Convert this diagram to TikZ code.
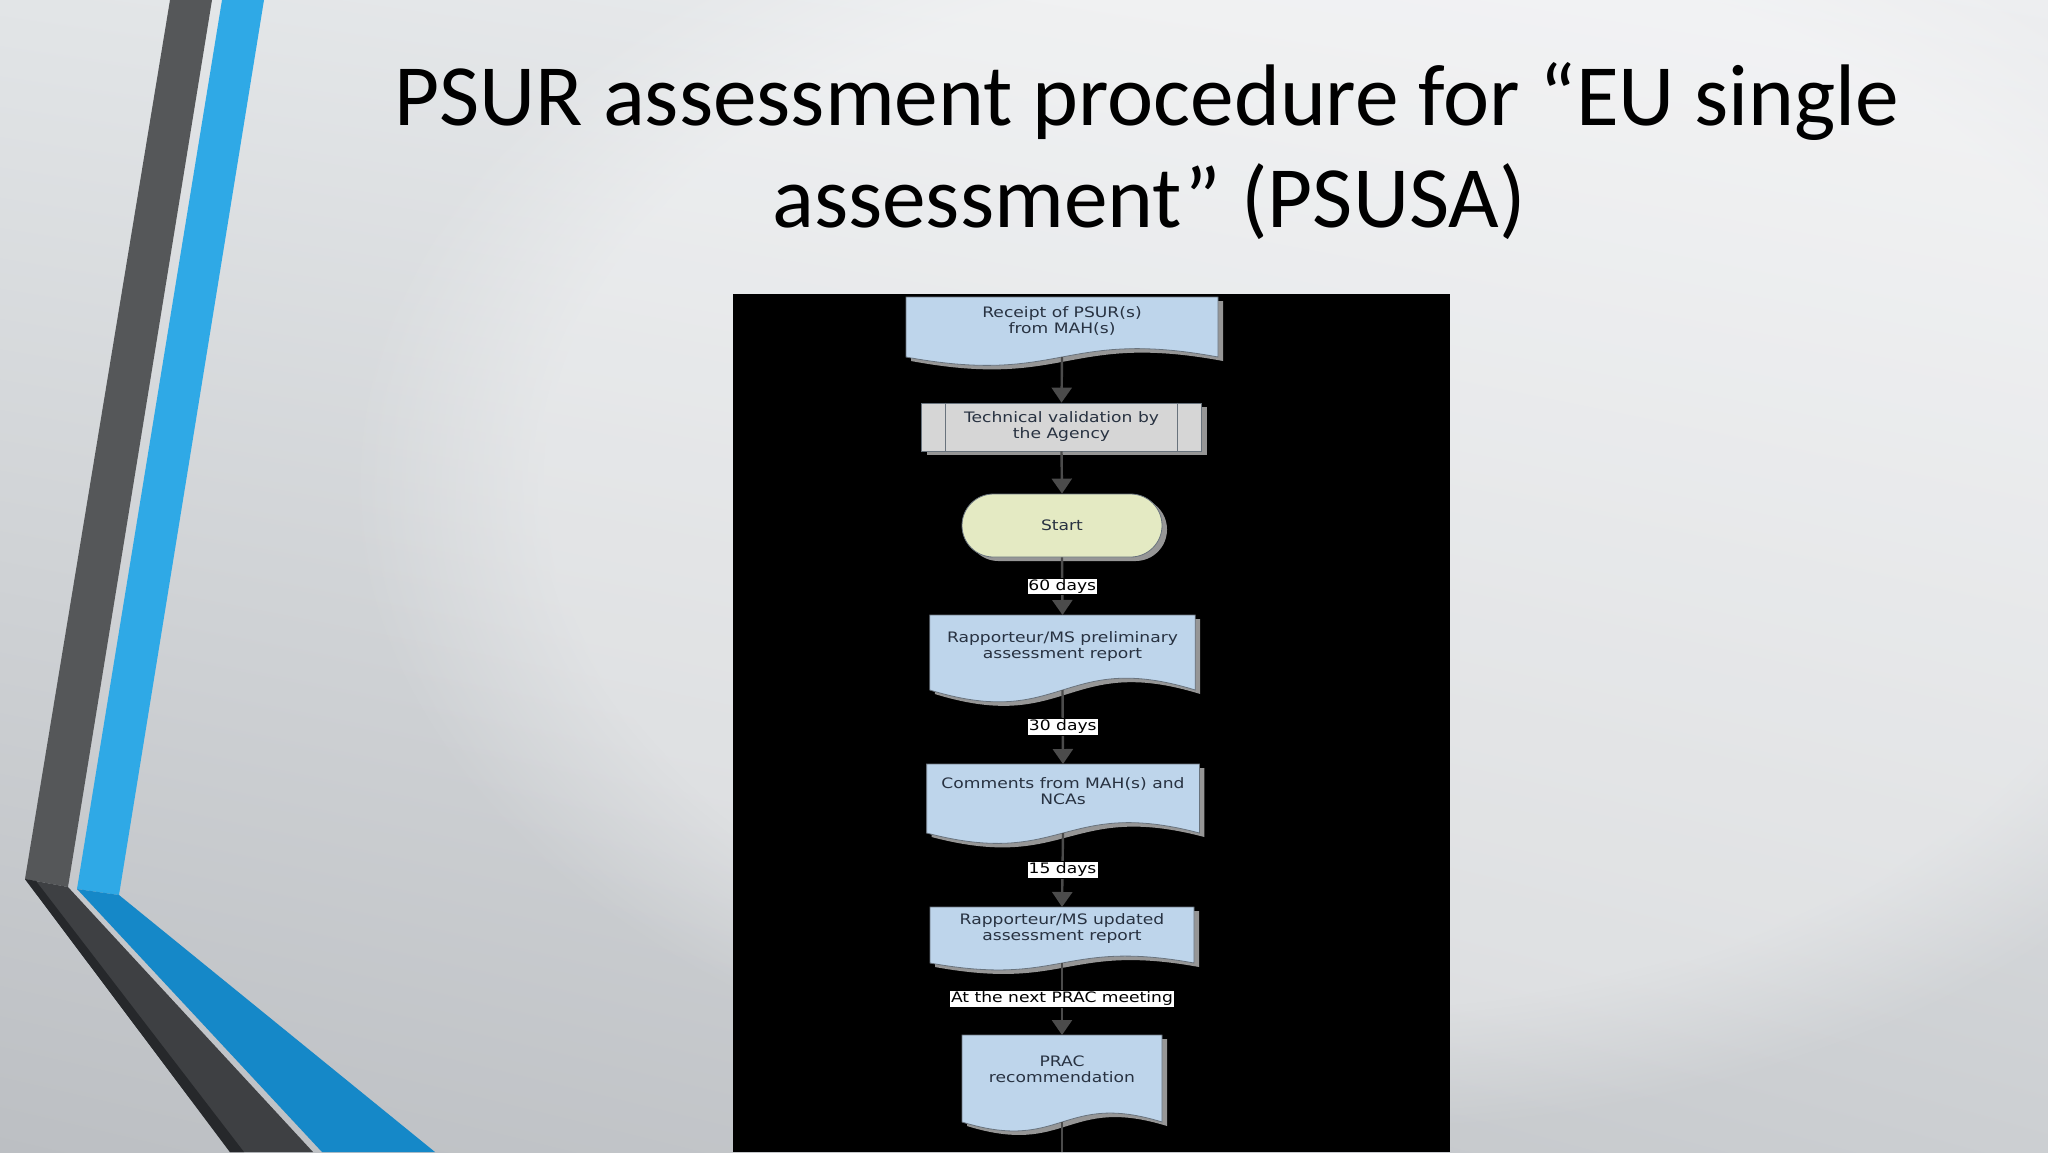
\documentclass[tikz,border=0pt]{standalone}
\usepackage{fontspec}
\setmainfont{Carlito}
\newfontfamily\diagfont[FakeStretch=1.19]{DejaVu Sans}
\usetikzlibrary{arrows.meta,fadings,shadows,shadings}
\definecolor{docblue}{RGB}{190,213,235}
\definecolor{techc}{RGB}{214,214,214}
\definecolor{startc}{RGB}{228,234,195}
\definecolor{shadowc}{RGB}{150,150,150}
\definecolor{edgec}{RGB}{105,115,125}
\definecolor{txtc}{RGB}{40,50,65}
\definecolor{linec}{RGB}{75,75,75}
\definecolor{bgUL}{RGB}{226,229,231}
\definecolor{bgUR}{RGB}{237,238,240}
\definecolor{bgLL}{RGB}{188,191,195}
\definecolor{bgLR}{RGB}{204,207,210}
\definecolor{greyUp}{RGB}{85,87,89}
\definecolor{greyLow}{RGB}{62,64,67}
\definecolor{greyEdge}{RGB}{38,40,43}
\definecolor{blueUp}{RGB}{47,169,230}
\definecolor{blueLow}{RGB}{21,136,200}
\newcommand\docshape[3]{%
  \fill[shadowc] ([shift={(5,4)}]#1.north west) -- ([shift={(5,4)}]#1.north east) -- ([shift={(5,4)}]#1.south east)
    .. controls ([shift={(5,4-#2)}]#1.south) and ([shift={(5,4+#2)}]#1.south) .. ([shift={(5,4)}]#1.south west) -- cycle;
  \filldraw[fill=#3, draw=edgec, line width=0.4pt] (#1.north west) -- (#1.north east) -- (#1.south east)
    .. controls ([shift={(0,-#2)}]#1.south) and ([shift={(0,#2)}]#1.south) .. (#1.south west) -- cycle;}
\begin{document}
\begin{tikzpicture}[x=0.5pt,y=-0.5pt,
  shp/.style={inner sep=0pt, outer sep=0pt},
  txt/.style={align=center, font=\diagfont\fontsize{7.2}{8}\selectfont, text=txtc, inner sep=0pt},
  lbl/.style={fill=white, draw=black, line width=0.3pt, inner xsep=0.8pt, inner ysep=0.7pt,
    font=\diagfont\fontsize{7.2}{8}\selectfont, text=black},
  arr/.style={draw=linec, line width=1.2pt, -{Triangle[length=7.5pt,width=10pt]}},
  conn/.style={draw=linec, line width=1.2pt},
  title/.style={anchor=base, font=\fontsize{43.7}{52}\selectfont, text=black, inner sep=0pt},
  techbox/.style={draw=edgec, line width=0.4pt, fill=techc, minimum width=140pt, minimum height=24pt,
    drop shadow={shadow xshift=2.5pt, shadow yshift=-2pt, fill=shadowc, opacity=1}},
  startbox/.style={draw=edgec, line width=0.4pt, fill=startc, minimum width=100pt, minimum height=31.5pt,
    rounded corners=15.7pt, drop shadow={shadow xshift=2.5pt, shadow yshift=-2pt, fill=shadowc, opacity=1}}]
% background
\useasboundingbox (0,0) rectangle (2048,1152);
\shade[upper left=bgUL, upper right=bgUR, lower left=bgLL, lower right=bgLR] (0,0) rectangle (2048,1152);
\fill[white, opacity=0.35, path fading=circle with fuzzy edge 20 percent] (1350,480) ellipse [x radius=1000, y radius=650];
% left decoration
\fill[greyUp] (170,0) -- (212,0) -- (68,887) -- (25,879) -- cycle;
\fill[blueUp] (222,0) -- (264,0) -- (119,895) -- (77,889) -- cycle;
\fill[greyLow] (25,879) -- (68,887) -- (313,1152) -- (230,1152) -- cycle;
\fill[greyEdge] (25,879) -- (36,881) -- (244,1152) -- (230,1152) -- cycle;
\fill[blueLow] (77,889) -- (119,895) -- (435,1152) -- (322,1152) -- cycle;
% title
\node[title] (title1) at (1147,125) {PSUR assessment procedure for “EU single};
\node[title] (title2) at (1149,227) {assessment” (PSUSA)};
% diagram panel
\fill[black] (733,294) rectangle (1450,1152);
% receipt
\node[shp, minimum width=156pt, minimum height=30pt] (receipt) at (1062,327) {};
\docshape{receipt}{29}{docblue}
\node[txt] (receiptt) at (1062,321) {Receipt of PSUR(s)\\from MAH(s)};
% technical validation
\node[techbox, txt] (tech) at (1061.5,427) {Technical validation by\\the Agency};
\draw[edgec, line width=0.4pt] ([xshift=12pt]tech.north west) -- ([xshift=12pt]tech.south west);
\draw[edgec, line width=0.4pt] ([xshift=-12.5pt]tech.north east) -- ([xshift=-12.5pt]tech.south east);
% start
\node[startbox, txt] (start) at (1062,525.5) {Start};
% preliminary
\node[shp, minimum width=132.7pt, minimum height=37.5pt] (prelim) at (1062.5,652.5) {};
\docshape{prelim}{41}{docblue}
\node[txt] (prelimt) at (1062.5,646.5) {Rapporteur/MS preliminary\\assessment report};
% comments
\node[shp, minimum width=136.4pt, minimum height=34.5pt] (comments) at (1063,798.5) {};
\docshape{comments}{36}{docblue}
\node[txt] (commentst) at (1063,791.5) {Comments from MAH(s) and\\NCAs};
% updated
\node[shp, minimum width=132pt, minimum height=28pt] (updated) at (1062,935) {};
\docshape{updated}{24}{docblue}
\node[txt] (updatedt) at (1062,929) {Rapporteur/MS updated\\assessment report};
% PRAC
\node[shp, minimum width=100pt, minimum height=43.5pt] (prac) at (1062,1078.5) {};
\docshape{prac}{31}{docblue}
\node[txt] (pract) at (1062,1069.5) {PRAC\\recommendation};
\coordinate (endpt) at (1062,1152);
% connectors
\draw[arr] (receipt.south) -- (tech.north);
\draw[arr] (tech.south) -- (start.north);
\draw[arr] (start.south) -- node[lbl] (l60) {60 days} (prelim.north);
\draw[arr] (prelim.south) -- node[lbl] (l30) {30 days} (comments.north);
\draw[arr] (comments.south) -- node[lbl] (l15) {15 days} (updated.north);
\draw[arr] (updated.south) -- node[lbl] (lprac) {At the next PRAC meeting} (prac.north);
\draw[conn] (prac.south) -- (endpt);
\end{tikzpicture}
\end{document}
